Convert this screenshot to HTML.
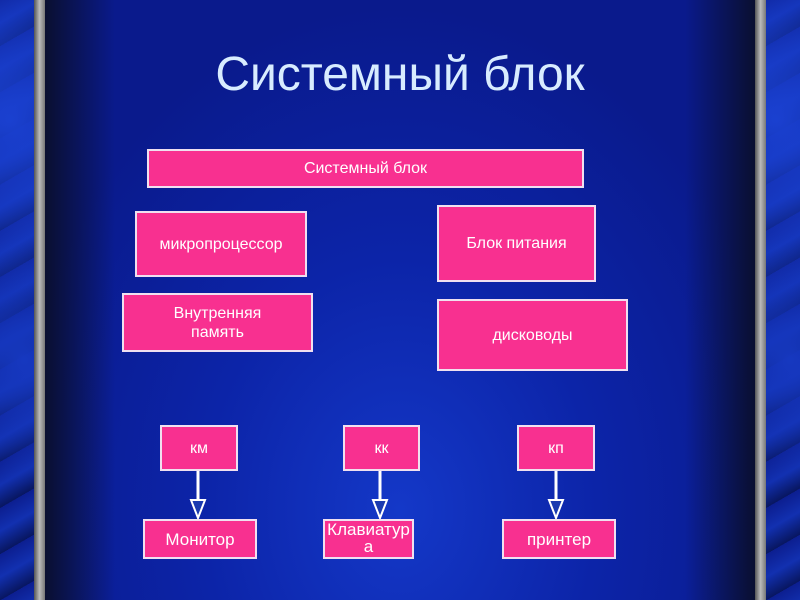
<!DOCTYPE html>
<html><head><meta charset="utf-8"><style>
body{margin:0;width:800px;height:600px;overflow:hidden;font-family:"Liberation Sans",sans-serif}
#bg{position:absolute;left:0;top:0;width:800px;height:600px;background:radial-gradient(ellipse at 50% 85%,#1438c8 0%,#0c24a8 35%,#0a1a8c 70%);}
.sw{position:absolute;top:0;width:34px;height:600px;background:radial-gradient(circle at 30% 20%,#1a40d0 0,rgba(0,0,0,0) 40%),radial-gradient(circle at 70% 60%,#1638c0 0,rgba(0,0,0,0) 35%),repeating-linear-gradient(150deg,#0c1e90 0,#1230b0 20px,#081660 40px);}
.gb{position:absolute;top:0;width:11px;height:600px;background:linear-gradient(90deg,#555,#bbb,#777);}
.dl{position:absolute;top:0;height:600px;width:70px}
.b{position:absolute;box-sizing:border-box;background:#f83090;border:2px solid #f0e0f0;color:#fff;font-size:16px;display:flex;align-items:center;justify-content:center;text-align:center;line-height:19px}
h1{position:absolute;top:47px;left:0;width:800px;margin:0;text-align:center;font-weight:normal;font-size:48px;color:#d8ecff}
</style></head><body>
<div id="bg"></div>
<div class="sw" style="left:0"></div><div class="gb" style="left:34px"></div>
<div class="dl" style="left:45px;background:linear-gradient(90deg,#0a0f30,rgba(10,26,140,0))"></div>
<div class="sw" style="left:766px"></div><div class="gb" style="left:755px"></div>
<div class="dl" style="left:685px;background:linear-gradient(270deg,#0a0f30,rgba(10,26,140,0))"></div>
<h1>Системный блок</h1>
<div class="b" style="left:147px;top:149px;width:437px;height:39px">Системный блок</div>
<div class="b" style="left:135px;top:211px;width:172px;height:66px">микропроцессор</div>
<div class="b" style="left:437px;top:205px;width:159px;height:77px">Блок питания</div>
<div class="b" style="left:122px;top:293px;width:191px;height:59px">Внутренняя<br>память</div>
<div class="b" style="left:437px;top:299px;width:191px;height:72px">дисководы</div>
<div class="b" style="left:160px;top:425px;width:78px;height:46px">км</div>
<div class="b" style="left:343px;top:425px;width:77px;height:46px">кк</div>
<div class="b" style="left:517px;top:425px;width:78px;height:46px">кп</div>
<svg style="position:absolute;left:0;top:0" width="800" height="600">
<g stroke="#fff" stroke-width="3" fill="none">
<line x1="198" y1="471" x2="198" y2="500"/><line x1="380" y1="471" x2="380" y2="500"/><line x1="556" y1="471" x2="556" y2="500"/>
</g>
<g stroke="#fff" stroke-width="2" fill="#1a3ab0">
<polygon points="191,500 205,500 198,518"/><polygon points="373,500 387,500 380,518"/><polygon points="549,500 563,500 556,518"/>
</g></svg>
<div class="b" style="left:143px;top:519px;width:114px;height:40px;font-size:17px">Монитор</div>
<div class="b" style="left:323px;top:519px;width:91px;height:40px;font-size:17px;overflow:hidden;align-items:flex-start;line-height:17px;word-break:break-all">Клавиатура</div>
<div class="b" style="left:502px;top:519px;width:114px;height:40px;font-size:17px">принтер</div>
</body></html>
